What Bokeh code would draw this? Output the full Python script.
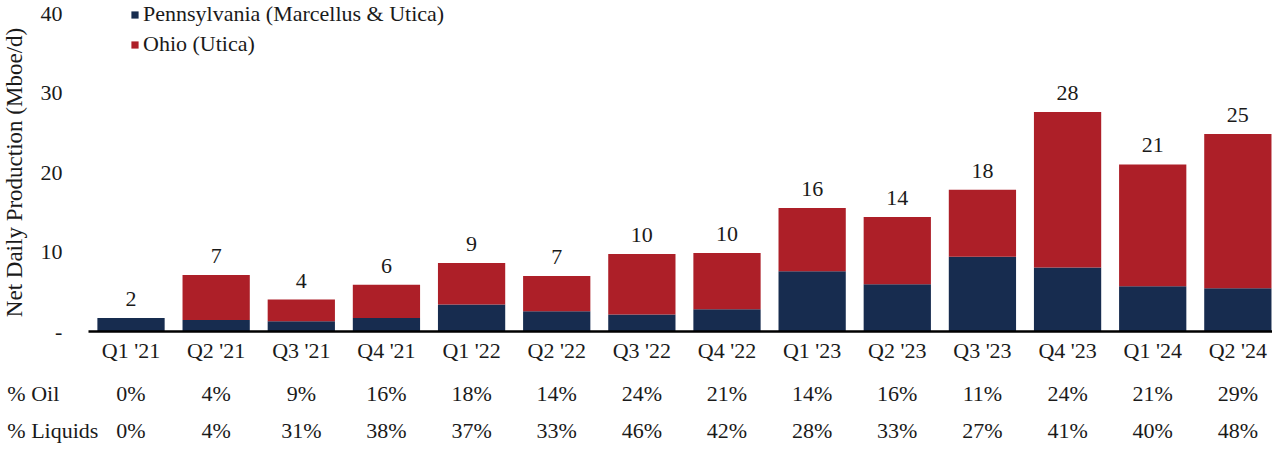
from bokeh.plotting import figure
from bokeh.models import (Range1d, LinearAxis, FixedTicker, Legend, LegendItem,
                          ColumnDataSource)
from bokeh.embed import file_html
from bokeh.resources import INLINE

# data (Mboe/d)
quarters = ["Q1 '21", "Q2 '21", "Q3 '21", "Q4 '21", "Q1 '22", "Q2 '22", "Q3 '22",
            "Q4 '22", "Q1 '23", "Q2 '23", "Q3 '23", "Q4 '23", "Q1 '24", "Q2 '24"]
pennsylvania = [1.72, 1.45, 1.30, 1.72, 3.40, 2.55, 2.14, 2.80, 7.58, 5.95, 9.43, 8.05, 5.70, 5.45]
ohio = [0.0, 5.68, 2.73, 4.18, 5.24, 4.45, 7.61, 7.10, 7.98, 8.48, 8.43, 19.59, 15.34, 19.42]
total_labels = ["2", "7", "4", "6", "9", "7", "10", "10", "16", "14", "18", "28", "21", "25"]
pct_oil = ["0%", "4%", "9%", "16%", "18%", "14%", "24%", "21%", "14%", "16%", "11%", "24%", "21%", "29%"]
pct_liquids = ["0%", "4%", "31%", "38%", "37%", "33%", "46%", "42%", "28%", "33%", "27%", "41%", "40%", "48%"]
row_titles = ["% Oil", "% Liquids"]
y_ticks = [0, 10, 20, 30, 40]

NAVY = "#172c4f"
RED = "#ad1f28"
FONT = "Liberation Serif"
FS = "22px"
TXT = "#1a1a1a"

idx = list(range(len(quarters)))
totals = [a + b for a, b in zip(pennsylvania, ohio)]
source = ColumnDataSource(dict(x=idx, pa=pennsylvania, oh=ohio,
                               total=totals, lbl=total_labels))

# the frame fills the whole canvas; axes are pinned with fixed_location
X0 = -1.533
OIL_Y = -7.8
LIQ_Y = -12.4
p = figure(x_range=Range1d(X0, 13.407), y_range=Range1d(-14.09, 41.67),
           width=1272, height=443, output_backend="svg",
           toolbar_location=None, x_axis_location=None, y_axis_location=None)
p.min_border = 0
p.outline_line_color = None
p.grid.visible = False

bars = p.vbar_stack(["pa", "oh"], x="x", width=0.79, source=source,
                    color=[NAVY, RED], line_color=None)

# total labels above each bar
p.text(x="x", y="total", text="lbl", source=source, text_font=FONT,
       text_font_size=FS, text_color=TXT, text_align="center",
       text_baseline="alphabetic", y_offset=-19)

# y axis
yax = LinearAxis(fixed_location=-0.5, ticker=FixedTicker(ticks=y_ticks), bounds=(0, 40))
yax.major_label_overrides = {0: "-"}
yax.axis_line_color = None
yax.major_tick_line_color = None
yax.minor_tick_line_color = None
yax.major_label_standoff = 20
yax.major_label_text_font = FONT
yax.major_label_text_font_size = FS
yax.major_label_text_color = TXT
yax.axis_label = "Net Daily Production (Mboe/d)"
yax.axis_label_text_font = FONT
yax.axis_label_text_font_style = "normal"
yax.axis_label_text_font_size = "23px"
yax.axis_label_text_color = TXT
yax.axis_label_standoff = 11
p.add_layout(yax, "left")

# x axis with the quarter labels
xax = LinearAxis(fixed_location=0, ticker=FixedTicker(ticks=idx), bounds=(-0.5, 14))
xax.major_label_overrides = dict(zip(idx, quarters))
xax.major_tick_line_color = None
xax.minor_tick_line_color = None
xax.major_label_standoff = 0
xax.major_label_text_font = FONT
xax.major_label_text_font_size = FS
xax.major_label_text_color = TXT
xax.axis_line_color = "black"
xax.axis_line_width = 2.5
p.add_layout(xax, "below")

# percentage rows under the axis
rows = ColumnDataSource(dict(x=idx + idx, y=[OIL_Y] * len(idx) + [LIQ_Y] * len(idx),
                             t=pct_oil + pct_liquids))
p.text(x="x", y="y", text="t", source=rows, text_font=FONT, text_font_size=FS,
       text_color=TXT, text_align="center", text_baseline="middle")
p.text(x=[X0 + 0.08] * 2, y=[OIL_Y, LIQ_Y], text=row_titles, text_font=FONT,
       text_font_size=FS, text_color=TXT, text_align="left", text_baseline="middle")

legend = Legend(items=[LegendItem(label="Pennsylvania (Marcellus & Utica)", renderers=[bars[0]]),
                       LegendItem(label="Ohio (Utica)", renderers=[bars[1]])],
                location=(130, 386), padding=0, margin=0, spacing=4,
                glyph_width=9, glyph_height=9, label_height=20,
                label_standoff=4, border_line_color=None,
                background_fill_alpha=0, label_text_font=FONT,
                label_text_font_size=FS, label_text_color=TXT)
p.add_layout(legend, "center")

open("out.html", "w").write(file_html(p, INLINE))
